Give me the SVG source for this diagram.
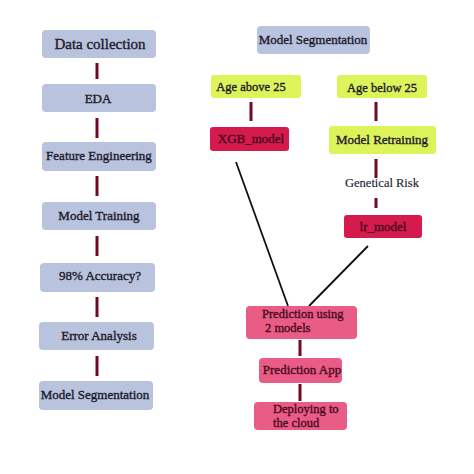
<svg xmlns="http://www.w3.org/2000/svg" width="474" height="474" viewBox="0 0 474 474">
<style>
text{font-family:"Liberation Serif","DejaVu Serif",serif;font-size:13px;fill:#1c1a2c;stroke:#1c1a2c;stroke-width:0.35;text-anchor:middle}
.blue{fill:#b9c3dd}
.yel{fill:#ddf35a}
.red{fill:#d51a4d}
.pink{fill:#e95c86}
text.dk{fill:#4a0a1e;stroke:#4a0a1e}
text.st{text-anchor:start;font-size:12.5px}
.con{stroke:#6e0b23;stroke-width:3;fill:none}
.ln{stroke:#111;stroke-width:1.8;fill:none}
</style>
<rect width="474" height="474" fill="#fff"/>
<g id="connectors">
<line class="con" x1="97" y1="63" x2="97" y2="79"/>
<line class="con" x1="97" y1="118" x2="97" y2="138"/>
<line class="con" x1="97" y1="176" x2="97" y2="196"/>
<line class="con" x1="97" y1="236" x2="97" y2="256"/>
<line class="con" x1="97" y1="297" x2="97" y2="317"/>
<line class="con" x1="97" y1="356" x2="97" y2="376"/>
<line class="con" x1="251" y1="102" x2="251" y2="121"/>
<line class="con" x1="376" y1="102" x2="376" y2="121"/>
<line class="con" x1="376" y1="159" x2="376" y2="178"/>
<line class="con" x1="376" y1="198" x2="376" y2="208"/>
<line class="ln" x1="236" y1="162" x2="288" y2="306"/>
<line class="ln" x1="368" y1="246" x2="309" y2="306"/>
<line class="con" x1="300" y1="340" x2="300" y2="356"/>
<line class="con" x1="300" y1="384" x2="300" y2="401"/>
</g>
<g id="n1"><rect class="blue" x="42" y="30" width="114" height="28" rx="4"/><text x="100" y="49" style="font-size:15px">Data collection</text></g>
<g id="n2"><rect class="blue" x="42" y="84" width="114" height="28" rx="4"/><text x="98" y="103">EDA</text></g>
<g id="n3"><rect class="blue" x="42" y="142" width="114" height="29" rx="4"/><text x="99" y="160">Feature Engineering</text></g>
<g id="n4"><rect class="blue" x="42" y="202" width="114" height="28" rx="4"/><text x="99" y="220">Model Training</text></g>
<g id="n5"><rect class="blue" x="40" y="263" width="115" height="29" rx="4"/><text x="100" y="280">98% Accuracy?</text></g>
<g id="n6"><rect class="blue" x="39" y="322" width="115" height="28" rx="4"/><text x="99" y="340">Error Analysis</text></g>
<g id="n7"><rect class="blue" x="39" y="381" width="114" height="29" rx="4"/><text x="95" y="399">Model Segmentation</text></g>
<g id="n8"><rect class="blue" x="257" y="26" width="113" height="28" rx="4"/><text x="313" y="44">Model Segmentation</text></g>
<g id="n9"><rect class="yel" x="211" y="75" width="90" height="23" rx="3"/><text x="251" y="91" style="font-size:12.5px">Age above 25</text></g>
<g id="n10"><rect class="yel" x="337" y="75" width="90" height="23" rx="3"/><text x="382" y="92" style="font-size:12.5px">Age below 25</text></g>
<g id="n11"><rect class="red" x="210" y="127" width="79" height="24" rx="3"/><text class="dk" x="251" y="143">XGB_model</text></g>
<g id="n12"><rect class="yel" x="329" y="126" width="107" height="28" rx="3"/><text x="382" y="144">Model Retraining</text></g>
<g id="n13"><text x="382" y="187" style="stroke-width:0.15;font-size:12.5px">Genetical Risk</text></g>
<g id="n14"><rect class="red" x="344" y="215" width="78" height="23" rx="3"/><text class="dk" x="383" y="231">lr_model</text></g>
<g id="n15"><rect class="pink" x="246" y="306" width="111" height="33" rx="4"/><text class="dk st" x="262" y="318">Prediction using</text><text class="dk st" x="265" y="332">2 models</text></g>
<g id="n16"><rect class="pink" x="259" y="358" width="83" height="25" rx="4"/><text class="dk" x="302" y="374">Prediction App</text></g>
<g id="n17"><rect class="pink" x="254" y="402" width="93" height="28" rx="4"/><text class="dk st" x="273" y="413">Deploying to</text><text class="dk st" x="273" y="427">the cloud</text></g>
</svg>
